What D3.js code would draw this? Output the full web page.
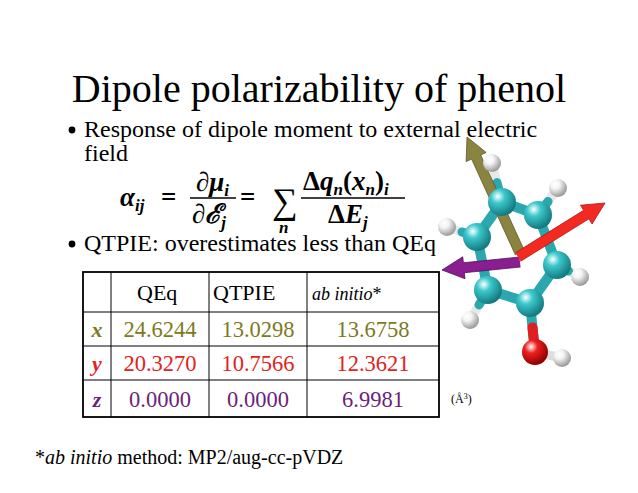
<!DOCTYPE html>
<html><head><meta charset="utf-8">
<script src="https://cdn.jsdelivr.net/npm/d3@7"></script>
<style>body{margin:0;background:#fff}text{font-family:"Liberation Serif",serif}</style>
</head><body><div id="slide"></div>
<script>
// table data
var columns = ["", "QEq", "QTPIE", "ab initio*"];
var rowLabels = ["x", "y", "z"];
var qeq = ["24.6244", "20.3270", "0.0000"];
var qtpie = ["13.0298", "10.7566", "0.0000"];
var abInitio = ["13.6758", "12.3621", "6.9981"];
var rowColors = ["#7d7a22", "#e3221b", "#6b1f7c"];

// molecule (atom positions)
var carbons = [[502,202],[538,215],[557,265],[530,303],[488,290],[477,237]];
var hydrogens = [[492,163,0],[558,188,1],[447,227,5],[580,277,2],[470,320,4]];
var oxygen = [535,352], hydroxylH = [562,358];
var arrows = [
  {from:[520,253], to:[467,137], color:"#8a8440", dark:"#5c5826"},
  {from:[520,262], to:[442,270], color:"#8a1d8f", dark:"#55105a"},
  {from:[518,257], to:[605,203], color:"#f22a22", dark:"#b01510"}
];

var W = 638, H = 493;
var svg = d3.select("#slide").append("svg").attr("width", W).attr("height", H);

svg.append("text").attr("x", 319).attr("y", 102).attr("text-anchor", "middle")
  .attr("font-size", 40).text("Dipole polarizability of phenol");

function bullet(y, lines) {
  svg.append("circle").attr("cx", 72).attr("cy", y - 7).attr("r", 3.4).attr("fill", "#000");
  lines.forEach(function (l, i) {
    svg.append("text").attr("x", 84).attr("y", y + i * 24).attr("font-size", 24).text(l);
  });
}
bullet(137, ["Response of dipole moment to external electric", "field"]);
bullet(251, ["QTPIE: overestimates less than QEq"]);

// formula
var f = svg.append("g").attr("font-size", 27).attr("font-style", "italic").attr("font-weight", "bold");
f.append("text").attr("x", 120).attr("y", 206).html('α<tspan font-size="17" dy="5">ij</tspan>');
f.append("text").attr("x", 161).attr("y", 206).attr("font-style", "normal").text("=");
f.append("text").attr("x", 196).attr("y", 191).html('∂μ<tspan font-size="17" dy="5">i</tspan>');
f.append("line").attr("x1", 190).attr("x2", 236).attr("y1", 198).attr("y2", 198).attr("stroke", "#000").attr("stroke-width", 1.6);
f.append("text").attr("x", 192).attr("y", 223).html('∂ℰ<tspan font-size="17" dy="5">j</tspan>');
f.append("text").attr("x", 240).attr("y", 206).attr("font-style", "normal").text("=");
f.append("text").attr("x", 272).attr("y", 213).attr("font-style", "normal").attr("font-weight", "normal").attr("font-size", 36).text("∑");
f.append("text").attr("x", 279).attr("y", 233).attr("font-size", 17).text("n");
f.append("text").attr("x", 303).attr("y", 190).html('<tspan font-style="normal">Δ</tspan>q<tspan font-size="17" dy="5">n</tspan><tspan dy="-5" font-style="normal">(</tspan>x<tspan font-size="17" dy="5">n</tspan><tspan dy="-5" font-style="normal">)</tspan><tspan font-size="17" dy="5">i</tspan>');
f.append("line").attr("x1", 301).attr("x2", 405).attr("y1", 198).attr("y2", 198).attr("stroke", "#000").attr("stroke-width", 1.6);
f.append("text").attr("x", 328).attr("y", 223).html('<tspan font-style="normal">Δ</tspan>E<tspan font-size="17" dy="5">j</tspan>');

// table
var colEdges = [83, 111, 209, 307, 439];
var rowEdges = [272, 312, 346, 380, 417];
var t = svg.append("g");
t.append("rect").attr("x", 83).attr("y", 272).attr("width", 356).attr("height", 145)
  .attr("fill", "none").attr("stroke", "#000").attr("stroke-width", 1.8);
colEdges.slice(1, -1).forEach(function (x) {
  t.append("line").attr("x1", x).attr("x2", x).attr("y1", 272).attr("y2", 417).attr("stroke", "#000");
});
rowEdges.slice(1, -1).forEach(function (y) {
  t.append("line").attr("x1", 83).attr("x2", 439).attr("y1", y).attr("y2", y).attr("stroke", "#000");
});
columns.forEach(function (c, i) {
  if (!c) return;
  var txt = t.append("text").attr("y", 300).attr("font-size", 22);
  if (i === 3) txt.attr("x", colEdges[i] + 5).html('<tspan font-style="italic">ab initio</tspan>*').attr("font-size", 18);
  else txt.attr("x", i === 1 ? colEdges[i] + 26 : colEdges[i] + 4).text(c);
});
var cols = [qeq, qtpie, abInitio];
rowLabels.forEach(function (r, ri) {
  var cy = (rowEdges[ri + 1] + rowEdges[ri + 2]) / 2 + 8;
  t.append("text").attr("x", 97).attr("y", cy).attr("text-anchor", "middle").attr("font-size", 22)
    .attr("font-style", "italic").attr("font-weight", "bold").attr("fill", rowColors[ri]).text(r);
  cols.forEach(function (vals, ci) {
    t.append("text").attr("x", (colEdges[ci + 1] + colEdges[ci + 2]) / 2).attr("y", cy)
      .attr("text-anchor", "middle").attr("font-size", 22.5).attr("fill", rowColors[ri]).text(vals[ri]);
  });
});
svg.append("text").attr("x", 451).attr("y", 403).attr("font-size", 12).html('(Å<tspan font-size="8" dy="-4">3</tspan><tspan dy="4">)</tspan>');

// footnote
svg.append("text").attr("x", 35).attr("y", 464).attr("font-size", 20)
  .html('*<tspan font-style="italic">ab initio</tspan> method: MP2/aug-cc-pVDZ');

// molecule
var defs = svg.append("defs");
function grad(id, c0, c1) {
  var g = defs.append("radialGradient").attr("id", id).attr("cx", "35%").attr("cy", "30%").attr("r", "70%");
  g.append("stop").attr("offset", "0%").attr("stop-color", "#fff");
  g.append("stop").attr("offset", "35%").attr("stop-color", c0);
  g.append("stop").attr("offset", "100%").attr("stop-color", c1);
}
grad("gc", "#3cc8cc", "#137a80");
grad("gh", "#f4f4f4", "#9a9a9a");
grad("go", "#ee2020", "#900000");
var m = svg.append("g");
function bond(a, b, color, w) {
  m.append("line").attr("x1", a[0]).attr("y1", a[1]).attr("x2", b[0]).attr("y2", b[1])
    .attr("stroke", color).attr("stroke-width", w).attr("stroke-linecap", "round");
}
function arrow(a) {
  var dx = a.to[0] - a.from[0], dy = a.to[1] - a.from[1], L = Math.hypot(dx, dy);
  var ux = dx / L, uy = dy / L, px = -uy, py = ux, hl = 22, hw = 11, sw = 5;
  var bx = a.to[0] - ux * hl, by = a.to[1] - uy * hl;
  var pts = [[a.from[0] + px * sw, a.from[1] + py * sw], [bx + px * sw, by + py * sw], [bx + px * hw, by + py * hw],
    a.to, [bx - px * hw, by - py * hw], [bx - px * sw, by - py * sw], [a.from[0] - px * sw, a.from[1] - py * sw]];
  m.append("path").attr("d", d3.line()(pts)).attr("fill", a.color).attr("stroke", a.dark).attr("stroke-width", 0.8);
}
for (var i = 0; i < 6; i++) bond(carbons[i], carbons[(i + 1) % 6], "#2aa8ae", 10);
hydrogens.forEach(function (h) {
  bond(carbons[h[2]], h, "#e8e8e8", 9);
  bond(carbons[h[2]], [(carbons[h[2]][0] + h[0]) / 2, (carbons[h[2]][1] + h[1]) / 2], "#2aa8ae", 9);
});
bond(carbons[3], oxygen, "#2aa8ae", 10);
bond([(carbons[3][0] + oxygen[0]) / 2, (carbons[3][1] + oxygen[1]) / 2], oxygen, "#e02020", 10);
bond(oxygen, hydroxylH, "#ddd", 9);
arrow(arrows[0]);
hydrogens.forEach(function (h) { m.append("circle").attr("cx", h[0]).attr("cy", h[1]).attr("r", 9).attr("fill", "url(#gh)"); });
m.append("circle").attr("cx", hydroxylH[0]).attr("cy", hydroxylH[1]).attr("r", 9).attr("fill", "url(#gh)");
m.append("circle").attr("cx", oxygen[0]).attr("cy", oxygen[1]).attr("r", 13).attr("fill", "url(#go)");
carbons.forEach(function (c) { m.append("circle").attr("cx", c[0]).attr("cy", c[1]).attr("r", 14).attr("fill", "url(#gc)"); });
arrow(arrows[1]);
arrow(arrows[2]);
</script></body></html>
